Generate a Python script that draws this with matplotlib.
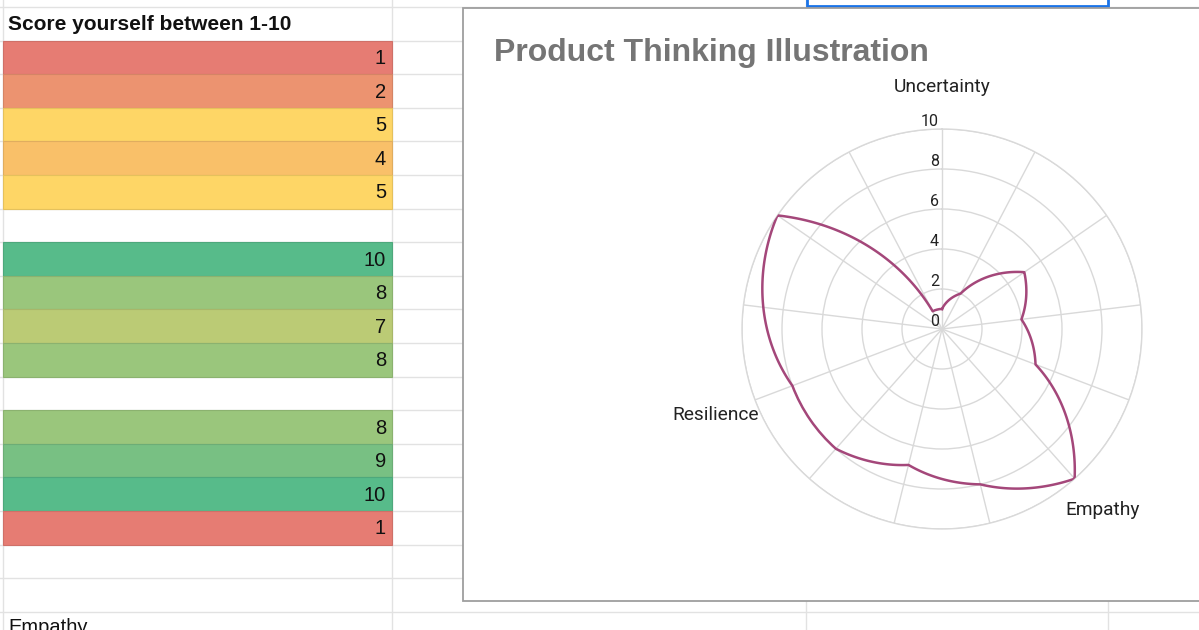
import numpy as np
import matplotlib
matplotlib.use("Agg")
import matplotlib.pyplot as plt
from matplotlib.colors import LinearSegmentedColormap, TwoSlopeNorm
from matplotlib.patches import Rectangle
from matplotlib.transforms import offset_copy

# Datos de la hoja
header = "Score yourself between 1-10"
uncertainty_scores = [1, 2, 5, 4, 5]
empathy_scores = [10, 8, 7, 8]
resilience_scores = [8, 9, 10, 1]
group_names = ["Uncertainty", "Empathy", "Resilience"]
footer_label = "Empathy"
chart_title = "Product Thinking Illustration"
r_ticks = [0, 2, 4, 6, 8, 10]

groups = [uncertainty_scores, empathy_scores, resilience_scores]
scores = uncertainty_scores + empathy_scores + resilience_scores
labels = []
for name, g in zip(group_names, groups):
    labels += [name] + [""] * (len(g) - 1)

W, H = 1199, 630
fig = plt.figure(figsize=(W / 100, H / 100), dpi=100)
bg = fig.add_axes([0, 0, 1, 1])
bg.set_xlim(0, W)
bg.set_ylim(H, 0)
bg.axis("off")

grid_c = "#E2E2E2"
row_h = 33.6
top = 7
cell_left, cell_right = 3, 392

# lineas de la hoja
for k in range(19):
    y = top + row_h * k
    bg.plot([0, W], [y, y], color=grid_c, lw=1, zorder=1)
for x in [3, 392, 806, 1108]:
    bg.plot([x, x], [0, H], color=grid_c, lw=1, zorder=1)

# celdas con escala de color tipo Sheets
cmap = LinearSegmentedColormap.from_list("sheets", ["#E67C73", "#FFD666", "#57BB8A"])
norm = TwoSlopeNorm(vmin=1, vcenter=5, vmax=10)
row = 1
for g in groups:
    for v in g:
        y0 = top + row_h * row
        fc = np.array(cmap(norm(v))[:3])
        bg.add_patch(Rectangle((cell_left, y0), cell_right - cell_left, row_h,
                               facecolor=fc, edgecolor=fc * 0.9, lw=0.8, zorder=2))
        bg.text(cell_right - 6, y0 + row_h / 2 + 1, str(v), ha="right", va="center",
                fontsize=14.5, family="Liberation Sans", color="#111111", zorder=3)
        row += 1
    row += 1

bg.text(8, top + row_h / 2 + 1, header, ha="left", va="center", fontsize=15,
        fontweight="bold", family="Liberation Sans", color="#111111", zorder=3)
bg.text(8, top + row_h * 18 + row_h / 2 - 1, footer_label, ha="left", va="center",
        fontsize=14.5, family="Liberation Sans", color="#111111", zorder=3)

# celda seleccionada arriba
bg.add_patch(Rectangle((807, -3), 301, 9, facecolor="none", edgecolor="#1A73E8", lw=2, zorder=3))

# caja del grafico
bg.add_patch(Rectangle((463, 7.5), 760, 593.5, facecolor="white", edgecolor="#9E9E9E",
                       lw=1.3, zorder=4))
bg.text(494, 53, chart_title, ha="left", va="center", fontsize=23, fontweight="bold",
        family="Liberation Sans", color="#757575", zorder=5)

# radar
cx, cy, R = 942, 329, 200
ax = fig.add_axes([(cx - R) / W, (H - cy - R) / H, 2 * R / W, 2 * R / H], projection="polar")
ax.set_facecolor("none")
ax.set_theta_zero_location("N")
ax.set_theta_direction(-1)
n = len(scores)
angles = np.arange(n) * 2 * np.pi / n
ax.set_ylim(0, 10)
ax.set_yticks(r_ticks[1:])
ax.set_yticklabels([])
ax.set_xticks(angles)
ax.set_xticklabels([])
ax.grid(True, color="#D9D9D9", lw=1)
ax.spines["polar"].set_color("#D9D9D9")
ax.spines["polar"].set_linewidth(1)
ax.tick_params(length=0)

# cerrar en 2*pi para que el ultimo tramo no dé la vuelta entera
theta = np.append(angles, 2 * np.pi)
rr = np.append(scores, scores[0])
line, = ax.plot(theta, rr, color="#A4477A", lw=1.8, zorder=5)
# como en Sheets: tramos interpolados en coordenadas polares (curvos)
line.get_path()._interpolation_steps = 80

for a, lab in zip(angles, labels):
    if lab:
        ax.text(a, 12.1, lab, ha="center", va="center", fontsize=13.8,
                family="Roboto", color="#222222", clip_on=False)

for v in r_ticks:
    ax.text(0, v, str(v), transform=offset_copy(ax.transData, fig=fig, x=-3, y=8, units="dots"),
            ha="right", va="center", fontsize=11.5, family="Roboto", color="#222222",
            clip_on=False, zorder=6)

fig.savefig("out.png", dpi=100)
